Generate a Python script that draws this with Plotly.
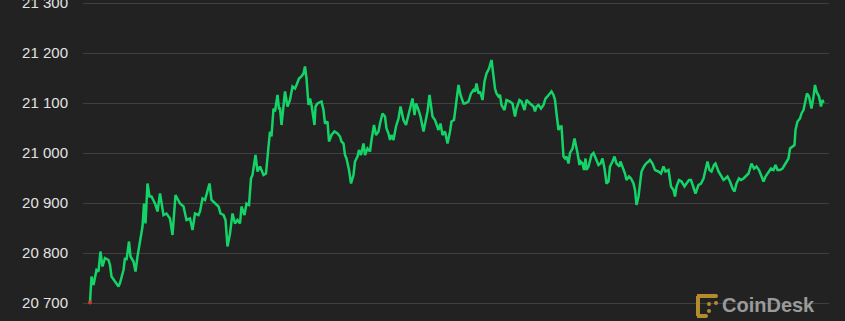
import plotly.graph_objects as go

# Minutes since start of window
minutes = [0, 3, 7, 10, 13, 17, 21, 25, 30, 37, 40, 43, 50, 57, 60, 67, 70, 73, 78, 81, 87, 91, 95, 100,
           105, 108, 111, 115, 119, 123, 130, 135, 140, 147, 153, 160, 165, 171, 180, 187,
           193, 200, 205, 210, 217, 220, 225, 230, 235, 239, 243, 250, 257, 261, 267, 271, 275, 280,
           285, 290, 295, 300, 303, 309, 313, 318, 322, 325, 331, 335, 340, 347, 352, 357, 360, 363,
           367, 370, 375, 378,
           380, 383, 387, 390, 395, 400, 405, 410, 413, 418, 423, 427, 430, 433, 437, 440, 443, 449,
           451, 455, 463, 467, 470, 475, 478, 483, 489, 495, 500, 503, 507, 510, 513, 518, 522, 527,
           530, 535, 538, 542, 547, 550, 555, 560, 563, 568, 572, 577, 580, 585, 590, 593, 597, 600,
           603, 607, 612, 617, 621, 627, 632, 637, 641, 645, 649, 652, 657, 661, 667, 670, 675, 679,
           682, 685, 690, 693, 697, 701, 705, 710, 715, 720, 723, 728, 732, 737, 741, 747,
           750, 757, 762, 767, 770, 773, 777, 780, 785, 789, 793, 798, 803, 807, 810, 813, 817, 820,
           823, 829, 833, 840, 845, 850, 853, 859, 863, 869, 873, 880, 887, 890, 893, 897, 902, 907,
           911, 915, 920, 923, 927, 930, 933, 937, 940, 943, 947,
           950, 953, 957, 960, 965, 969, 972, 975, 979, 981, 985, 988, 991, 993, 997, 1000, 1003, 1007,
           1012, 1017, 1021, 1025, 1029, 1033, 1037, 1040, 1045, 1049, 1053, 1059, 1061, 1065, 1070,
           1073, 1078, 1082, 1087, 1090, 1093, 1097, 1100, 1103, 1108, 1112, 1117, 1120, 1125, 1130,
           1137, 1142, 1147, 1151, 1157, 1162, 1167, 1170, 1173, 1178, 1183, 1189, 1193, 1198, 1202,
           1207, 1211, 1217, 1222, 1227, 1230, 1235, 1239, 1243, 1248, 1251, 1257, 1261, 1267, 1271,
           1275, 1280, 1285, 1289, 1293, 1298, 1302, 1307, 1311, 1317, 1323, 1328, 1333, 1338, 1342,
           1347, 1351, 1357, 1362, 1367, 1371, 1375, 1380, 1385, 1389, 1393, 1397, 1400, 1405, 1409,
           1411, 1415, 1420, 1423, 1427, 1430, 1434, 1438, 1443, 1447, 1450, 1453, 1458, 1462, 1465, 1467]

prices = [20701, 20753, 20736, 20756, 20766, 20763, 20803, 20773, 20790, 20786, 20776, 20753, 20743, 20733,
          20740, 20766, 20790, 20786, 20823, 20793, 20783, 20763, 20793, 20826,
          20853, 20899, 20859, 20939, 20913, 20913, 20899, 20883, 20919, 20876, 20879, 20869, 20836, 20916,
          20899, 20893,
          20866, 20869, 20846, 20879, 20876, 20883, 20909, 20906, 20923, 20939, 20906, 20899, 20893, 20879,
          20876, 20866, 20813, 20839, 20879, 20859, 20866, 20859, 20893, 20876, 20899, 20896, 20949, 20956,
          20996, 20963, 20973, 20956, 20959, 21013, 21043, 21033, 21089, 21083, 21116, 21089,
          21089, 21056, 21096, 21123, 21093, 21106, 21133, 21129, 21136, 21149, 21153, 21159, 21173, 21149,
          21096, 21109, 21096, 21056, 21093, 21099, 21103, 21086, 21059, 21063, 21023, 21036, 21043, 21039,
          21033, 21023, 21019, 20996, 20989, 20966, 20939, 20956, 20983, 20993, 21006, 20996, 21019, 20996,
          21009, 21003, 21026, 21056, 21036, 21043, 21059, 21079, 21073, 21049, 21039, 21026, 21036, 21026,
          21053, 21069, 21093, 21066, 21056, 21076, 21093, 21109, 21076, 21099, 21086, 21073, 21043, 21056,
          21083, 21116, 21096, 21073, 21066, 21056, 21046, 21059, 21036, 21043, 21019, 21043, 21063, 21066,
          21099, 21136, 21116, 21099,
          21099, 21103, 21119, 21126, 21123, 21139, 21119, 21123, 21106, 21143, 21159, 21169, 21186, 21156,
          21129, 21119, 21113, 21116, 21096, 21086, 21106, 21103, 21099, 21073, 21089, 21106, 21103, 21086,
          21106, 21099, 21093, 21083, 21093, 21096, 21089, 21096, 21109, 21113, 21119, 21123, 21116, 21106,
          21079, 21046, 21053, 21053, 20993,
          20989, 20993, 20979, 21000, 21009, 21029, 21016, 21000, 20976, 20983, 20979, 20966, 20989, 20966,
          20973, 20983, 20996, 21000, 20989, 20976, 20979, 20989, 20969, 20939, 20943, 20973, 20983, 20993,
          20979, 20973, 20983, 20973, 20959, 20946, 20953, 20949, 20939, 20926, 20896, 20913, 20946, 20963,
          20973, 20979, 20983, 20986, 20979, 20966,
          20963, 20959, 20973, 20963, 20966, 20933, 20926, 20913, 20933, 20946, 20943, 20933, 20939, 20946,
          20946, 20933, 20919, 20936, 20939, 20949, 20963, 20983, 20966, 20963, 20976, 20979, 20963, 20956,
          20946, 20949, 20953, 20943, 20929, 20923, 20939, 20949, 20946, 20949, 20953, 20959, 20979, 20969,
          20973, 20966, 20956, 20943, 20953, 20963, 20969, 20966, 20976, 20966, 20966, 20969, 20976, 20983,
          20989, 21009, 21013, 21016, 21046, 21063, 21069, 21079, 21086, 21099, 21119, 21113, 21089, 21113,
          21136, 21123, 21113, 21093, 21106, 21100]

tick_values = [20700, 20800, 20900, 21000, 21100, 21200, 21300]
tick_labels = ["20 700", "20 800", "20 900", "21 000", "21 100", "21 200", "21 300"]

W, H = 845, 321
ML, MR, MT, MB = 83, 16, 0, 0
PW = W - ML - MR
PH = H - MT - MB


def px(x):
    return (x - ML) / PW


def py(y):
    return 1 - (y - MT) / PH


fig = go.Figure()
fig.add_trace(go.Scatter(x=minutes, y=prices, mode="lines",
                         line=dict(color="#14d468", width=2.5), hoverinfo="skip",
                         showlegend=False))
fig.add_trace(go.Scatter(x=minutes[:1], y=prices[:1], mode="markers",
                         marker=dict(color="#d8322a", size=4), showlegend=False))

gold = "#b48c2c"
shapes = []
# CoinDesk icon (decorative)
for (x0, y0, x1, y1) in [(697, 296, 716, 296), (698, 296, 698, 316), (697, 316, 706, 316)]:
    shapes.append(dict(type="line", xref="paper", yref="paper",
                       x0=px(x0), y0=py(y0), x1=px(x1), y1=py(y1),
                       line=dict(color=gold, width=4)))
for (cx, cy) in [(716, 296), (716, 303), (709, 304), (709, 311), (706, 316)]:
    r = 2
    shapes.append(dict(type="circle", xref="paper", yref="paper",
                       x0=px(cx - r), y0=py(cy + r), x1=px(cx + r), y1=py(cy - r),
                       fillcolor=gold, line=dict(width=0)))

fig.update_layout(
    width=W, height=H,
    margin=dict(l=ML, r=MR, t=MT, b=MB, autoexpand=False),
    paper_bgcolor="#222222", plot_bgcolor="#222222",
    xaxis=dict(range=[-14, 1478], visible=False, showgrid=False, zeroline=False,
               automargin=False),
    yaxis=dict(range=[20664, 21306], tickvals=tick_values, ticktext=tick_labels,
               showgrid=True, gridcolor="#404040", gridwidth=1, zeroline=False,
               showline=False, ticks="", ticklabelstandoff=14, ticklabeloverflow="allow",
               automargin=False,
               tickfont=dict(family="Liberation Sans, Arial, sans-serif", size=15, color="#e2e2e2")),
    shapes=shapes,
    annotations=[dict(text="<b>CoinDesk</b>", xref="paper", yref="paper",
                      x=px(720), y=py(305), xanchor="left", yanchor="middle",
                      showarrow=False,
                      font=dict(family="Liberation Sans, Arial, sans-serif", size=20, color="#9a9a9a"))],
)

fig.write_html("out.html")
